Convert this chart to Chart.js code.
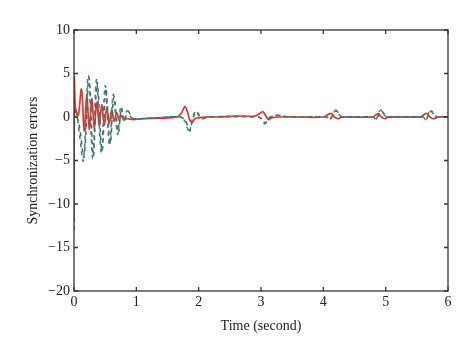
<!DOCTYPE html>
<html><head><meta charset="utf-8">
<script src="https://cdn.jsdelivr.net/npm/chart.js@4"></script>
<style>html,body{margin:0;padding:0;background:#fff}#wrap{width:474px;height:355px}</style>
</head><body><div id="wrap"><canvas id="c" width="474" height="355"></canvas></div>
<script>
const xTicks = [0, 1, 2, 3, 4, 5, 6];
const yTicks = [-20, -15, -10, -5, 0, 5, 10];

const tRed = [0,0.004,0.02,0.04,0.07,0.12,0.165,0.205,0.245,0.285,0.325,0.365,0.405,0.445,0.485,0.525,0.565,0.605,0.645,0.685,0.725,0.765,0.8,0.85,0.95,1.1,1.3,1.5,1.65,1.72,1.78,1.82,1.86,1.9,1.94,2.0,2.1,2.3,2.6,2.9,2.98,3.03,3.08,3.12,3.17,3.3,3.6,4.0,4.08,4.13,4.18,4.23,4.3,4.8,4.85,4.88,4.93,4.98,5.05,5.55,5.62,5.66,5.71,5.76,5.85,6];
const red = [-12,4.5,1.2,0.6,0.2,3.2,-1.6,2.6,-1.4,2.1,-1.2,1.7,-1.0,1.4,-0.9,1.1,-0.7,0.8,-0.5,0.5,-0.4,0.2,-0.3,-0.2,-0.3,-0.2,-0.15,-0.1,0,0.4,1.2,0.6,-0.4,-0.6,-0.2,-0.1,0,0,0.1,0.1,0.4,0.6,0.1,-0.3,-0.1,0,0,0,0.3,0.4,0,-0.2,0,0,0.3,0.4,0,-0.2,0,0,0.3,0.4,0,-0.2,0,0];

const tGreen = [0,0.04,0.08,0.15,0.23,0.3,0.36,0.44,0.5,0.57,0.63,0.7,0.75,0.8,0.84,0.87,0.9,0.95,1.05,1.3,1.7,1.78,1.82,1.85,1.88,1.92,1.96,2.0,2.05,2.15,2.95,3.02,3.06,3.1,3.15,3.25,3.35,3.5,4.05,4.1,4.15,4.2,4.25,4.3,4.8,4.84,4.88,4.92,4.97,5.02,5.6,5.64,5.68,5.72,5.77,5.82,6];
const green = [1.5,0.5,-1.5,-5.0,4.8,-4.8,4.3,-4.2,3.6,-3.3,2.6,-2.0,1.2,-0.6,0.6,0.7,0.1,-0.2,-0.2,-0.1,0,-0.5,-1.3,-1.8,-0.8,0.3,0.7,0.2,-0.2,0,0,-0.3,-0.8,-0.4,0,0.2,0.1,0,0,-0.3,0.3,0.8,0.3,0,0,-0.3,0.3,0.8,0.3,0,0,-0.3,0.3,0.8,0.3,0,0];

const tBlue = [0,0.01,0.04,0.09,0.16,0.24,0.31,0.37,0.45,0.51,0.58,0.64,0.71,0.76,0.81,0.85,0.88,0.91,0.96,1.05,1.3,1.7,1.79,1.83,1.86,1.89,1.93,1.97,2.01,2.06,2.15,2.95,3.03,3.07,3.11,3.16,3.26,3.36,3.5,4.05,4.11,4.16,4.21,4.26,4.31,4.8,4.85,4.89,4.93,4.98,5.03,5.6,5.65,5.69,5.73,5.78,5.83,6];
const blue = [-13.5,0.8,0.2,-1.2,-4.6,4.5,-4.5,4.0,-3.9,3.3,-3.0,2.3,-1.8,1.0,-0.5,0.5,0.6,0.1,-0.2,-0.2,-0.1,0,-0.4,-1.2,-1.6,-0.7,0.3,0.6,0.2,-0.2,0,0,-0.3,-0.7,-0.3,0,0.2,0.1,0,0,-0.3,0.3,0.7,0.3,0,0,-0.3,0.3,0.7,0.3,0,0,-0.3,0.3,0.7,0.3,0,0];

const pts = (t, v) => t.map((x, i) => ({x: x, y: v[i]}));

const frame = {
  id: 'frame',
  afterDatasetsDraw(chart) {
    const {ctx, chartArea: a, scales: {x, y}} = chart;
    ctx.save();
    ctx.strokeStyle = '#333';
    ctx.lineWidth = 1.3;
    ctx.strokeRect(a.left, a.top, a.right - a.left, a.bottom - a.top);
    ctx.beginPath();
    xTicks.forEach(v => {
      const px = x.getPixelForValue(v);
      ctx.moveTo(px, a.bottom); ctx.lineTo(px, a.bottom - 4);
      ctx.moveTo(px, a.top); ctx.lineTo(px, a.top + 4);
    });
    yTicks.forEach(v => {
      const py = y.getPixelForValue(v);
      ctx.moveTo(a.left, py); ctx.lineTo(a.left + 4, py);
      ctx.moveTo(a.right, py); ctx.lineTo(a.right - 4, py);
    });
    ctx.stroke();
    ctx.restore();
  }
};

const serif = "'Liberation Serif', 'DejaVu Serif', serif";

new Chart(document.getElementById('c'), {
  type: 'line',
  data: {
    datasets: [
      {data: pts(tGreen, green), borderColor: '#3a8c58', borderWidth: 1.5, borderDash: [4, 4], pointRadius: 0, tension: 0.35},
      {data: pts(tBlue, blue), borderColor: '#3f5f8e', borderWidth: 1.5, borderDash: [4, 4], borderDashOffset: 4, pointRadius: 0, tension: 0.35},
      {data: pts(tRed, red), borderColor: '#e8322a', borderWidth: 1.7, pointRadius: 0, tension: 0.35}
    ]
  },
  options: {
    responsive: false,
    animation: false,
    plugins: {legend: {display: false}, tooltip: {enabled: false}},
    layout: {padding: {left: 0, top: 30, right: 26, bottom: 0}},
    scales: {
      x: {
        type: 'linear', min: 0, max: 6,
        afterBuildTicks: s => { s.ticks = xTicks.map(v => ({value: v})); },
        afterFit: s => { s.height = 64; },
        grid: {display: false, drawTicks: false},
        border: {display: false},
        ticks: {color: '#222', font: {family: serif, size: 14}, padding: 3, maxRotation: 0},
        title: {display: true, text: 'Time (second)', color: '#222', font: {family: serif, size: 14}, padding: {top: 2, bottom: 20}}
      },
      y: {
        type: 'linear', min: -20, max: 10,
        afterBuildTicks: s => { s.ticks = yTicks.map(v => ({value: v})); },
        afterFit: s => { s.width = 74; },
        grid: {display: false, drawTicks: false},
        border: {display: false},
        ticks: {color: '#222', font: {family: serif, size: 14}, padding: 4,
          callback: v => String(v).replace('-', '\u2212')},
        title: {display: true, text: 'Synchronization errors', color: '#222', font: {family: serif, size: 14}, padding: {top: 25, bottom: 2}}
      }
    }
  },
  plugins: [frame]
});
</script>
</body></html>
